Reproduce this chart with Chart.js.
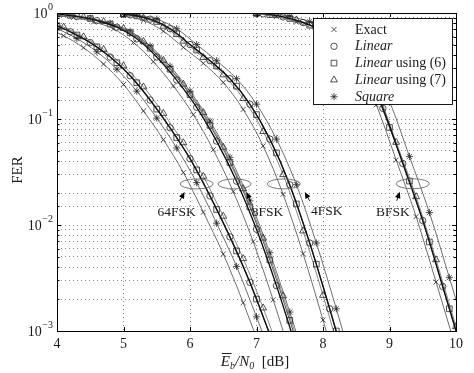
<!DOCTYPE html>
<html>
<head>
<meta charset="utf-8">
<script src="https://cdn.jsdelivr.net/npm/chart.js"></script>
<style>
  html, body { margin: 0; padding: 0; background: #fff; }
  canvas { display: block; }
</style>
</head>
<body>
<canvas id="myChart" width="474" height="373"></canvas>
<script>
// FER curves, one x / FER pair of arrays per curve
// 64FSK
const fsk64ExactX = [3.8, 4.1, 4.4, 4.7, 5.0, 5.3, 5.6, 5.9, 6.2, 6.5, 6.8, 7.1];
const fsk64ExactFer = [0.750, 0.610, 0.470, 0.330, 0.212, 0.119, 0.0638, 0.0313, 0.0132, 0.00533, 0.00185, 0.00058];
const fsk64LinX = [3.9, 4.2, 4.5, 4.8, 5.1, 5.4, 5.7, 6.0, 6.3, 6.6, 6.9, 7.2];
const fsk64LinFer = [0.807, 0.665, 0.526, 0.384, 0.256, 0.151, 0.0826, 0.0422, 0.0188, 0.00773, 0.00288, 0.00093];
const fsk64Lin6X = [3.7, 4.0, 4.3, 4.6, 4.9, 5.2, 5.5, 5.8, 6.1, 6.4, 6.7, 7.0, 7.3];
const fsk64Lin6Fer = [0.891, 0.760, 0.620, 0.480, 0.340, 0.220, 0.124, 0.0668, 0.0331, 0.0140, 0.0057, 0.0020, 0.00063];
const fsk64Lin7X = [3.8, 4.1, 4.4, 4.7, 5.0, 5.3, 5.6, 5.9, 6.2, 6.5, 6.8, 7.1, 7.4];
const fsk64Lin7Fer = [0.871, 0.736, 0.596, 0.454, 0.317, 0.201, 0.113, 0.0597, 0.0288, 0.0121, 0.00482, 0.00165, 0.00052];
const fsk64SqX = [3.7, 4.0, 4.3, 4.6, 4.9, 5.2, 5.5, 5.8, 6.1, 6.4, 6.7, 7.0, 7.3];
const fsk64SqFer = [0.851, 0.713, 0.573, 0.431, 0.295, 0.183, 0.102, 0.0533, 0.0251, 0.0104, 0.00407, 0.00136, 0.00043];

// 8FSK
const fsk8ExactX = [4.0, 4.25, 4.55, 4.85, 5.15, 5.45, 5.75, 6.05, 6.35, 6.65, 6.95, 7.25, 7.55];
const fsk8ExactFer = [0.959, 0.910, 0.824, 0.708, 0.526, 0.347, 0.205, 0.110, 0.0513, 0.0207, 0.00697, 0.00197, 0.00050];
const fsk8LinX = [4.0, 4.3, 4.6, 4.9, 5.2, 5.5, 5.8, 6.1, 6.4, 6.7, 7.0, 7.3, 7.6];
const fsk8LinFer = [0.977, 0.925, 0.847, 0.735, 0.571, 0.385, 0.233, 0.129, 0.0619, 0.0259, 0.00912, 0.00268, 0.00069];
const fsk8Lin6X = [4.0, 4.2, 4.5, 4.8, 5.1, 5.4, 5.7, 6.0, 6.3, 6.6, 6.9, 7.2, 7.5, 7.8];
const fsk8Lin6Fer = [0.982, 0.951, 0.887, 0.787, 0.652, 0.465, 0.295, 0.170, 0.0871, 0.0389, 0.0148, 0.00468, 0.00126, 0.00032];
const fsk8Lin7X = [4.0, 4.1, 4.4, 4.7, 5.0, 5.3, 5.6, 5.9, 6.2, 6.5, 6.8, 7.1, 7.4, 7.7];
const fsk8Lin7Fer = [0.984, 0.971, 0.914, 0.830, 0.716, 0.540, 0.357, 0.213, 0.115, 0.0541, 0.0220, 0.00752, 0.00215, 0.00055];
const fsk8SqX = [4.0, 4.2, 4.5, 4.8, 5.1, 5.4, 5.7, 6.0, 6.3, 6.6, 6.9, 7.2, 7.5, 7.8];
const fsk8SqFer = [0.986, 0.957, 0.895, 0.802, 0.673, 0.489, 0.315, 0.183, 0.0957, 0.0435, 0.0169, 0.00548, 0.00151, 0.00038];

// 4FSK
const fsk4ExactX = [5.0, 5.3, 5.6, 5.9, 6.2, 6.5, 6.8, 7.1, 7.4, 7.7, 8.0, 8.3];
const fsk4ExactFer = [0.948, 0.853, 0.674, 0.474, 0.335, 0.221, 0.123, 0.0556, 0.0195, 0.00537, 0.00127, 0.00028];
const fsk4LinX = [5.0, 5.1, 5.4, 5.7, 6.0, 6.3, 6.6, 6.9, 7.2, 7.5, 7.8, 8.1, 8.4];
const fsk4LinFer = [0.977, 0.959, 0.875, 0.711, 0.504, 0.355, 0.240, 0.138, 0.0646, 0.0240, 0.00676, 0.00162, 0.00036];
const fsk4Lin6X = [5.0, 5.2, 5.5, 5.8, 6.1, 6.4, 6.7, 7.0, 7.3, 7.6, 7.9, 8.2, 8.5];
const fsk4Lin6Fer = [0.977, 0.938, 0.832, 0.638, 0.447, 0.316, 0.204, 0.110, 0.0479, 0.0158, 0.00427, 0.00100, 0.00022];
const fsk4Lin7X = [5.0, 5.3, 5.6, 5.9, 6.2, 6.5, 6.8, 7.1, 7.4, 7.7, 8.0, 8.3];
const fsk4Lin7Fer = [0.970, 0.895, 0.750, 0.542, 0.380, 0.261, 0.156, 0.0762, 0.0299, 0.00879, 0.00217, 0.00049];
const fsk4SqX = [5.0, 5.2, 5.5, 5.8, 6.1, 6.4, 6.7, 7.0, 7.3, 7.6, 7.9, 8.2, 8.5];
const fsk4SqFer = [0.989, 0.959, 0.875, 0.711, 0.504, 0.355, 0.240, 0.138, 0.0646, 0.0240, 0.00676, 0.00162, 0.00036];

// BFSK
const bfskExactX = [7.0, 7.3, 7.6, 7.9, 8.2, 8.5, 8.8, 9.1, 9.4, 9.7, 10.0];
const bfskExactFer = [0.984, 0.923, 0.820, 0.685, 0.525, 0.328, 0.136, 0.0410, 0.0120, 0.00290, 0.00068];
const bfskLinX = [7.0, 7.1, 7.4, 7.7, 8.0, 8.3, 8.6, 8.9, 9.2, 9.5, 9.8, 10.1];
const bfskLinFer = [0.993, 0.982, 0.918, 0.813, 0.676, 0.513, 0.316, 0.126, 0.0380, 0.0110, 0.00263, 0.00062];
const bfskLin6X = [7.0, 7.2, 7.5, 7.8, 8.1, 8.4, 8.7, 9.0, 9.3, 9.6, 9.9, 10.2];
const bfskLin6Fer = [0.993, 0.966, 0.889, 0.767, 0.631, 0.447, 0.245, 0.0832, 0.0260, 0.00692, 0.00162, 0.00038];
const bfskLin7X = [7.0, 7.3, 7.6, 7.9, 8.2, 8.5, 8.8, 9.1, 9.4, 9.7, 10.0, 10.3];
const bfskLin7Fer = [0.993, 0.948, 0.861, 0.730, 0.586, 0.393, 0.193, 0.0603, 0.0185, 0.00470, 0.00110, 0.00025];
const bfskSqX = [7.0, 7.2, 7.5, 7.8, 8.1, 8.4, 8.7, 9.0, 9.3, 9.6, 9.9, 10.2];
const bfskSqFer = [0.995, 0.986, 0.929, 0.830, 0.693, 0.537, 0.340, 0.146, 0.0443, 0.0131, 0.00319, 0.00075];

const xTicks = [4, 5, 6, 7, 8, 9, 10];
const yExponents = [0, -1, -2, -3];

// one style per approximation, shared by all four modulations
const kinds = {
    exact: { parts: [['Exact', '']], pointStyle: 'crossRot', radius: 3.5, color: '#6e6e6e', width: 1 },
    linear: { parts: [['Linear', 'italic ']], pointStyle: 'circle', radius: 3.2, color: '#111', width: 1.4 },
    lin6: { parts: [['Linear', 'italic '], [' using (6)', '']], pointStyle: 'rect', radius: 4, color: '#555', width: 1 },
    lin7: { parts: [['Linear', 'italic '], [' using (7)', '']], pointStyle: 'triangle', radius: 4, color: '#888', width: 1 },
    square: { parts: [['Square', 'italic ']], pointStyle: 'star', radius: 3.6, color: '#6e6e6e', width: 1 }
};

const curves = [
    ['exact', fsk64ExactX, fsk64ExactFer], ['linear', fsk64LinX, fsk64LinFer],
    ['lin6', fsk64Lin6X, fsk64Lin6Fer], ['lin7', fsk64Lin7X, fsk64Lin7Fer], ['square', fsk64SqX, fsk64SqFer],
    ['exact', fsk8ExactX, fsk8ExactFer], ['linear', fsk8LinX, fsk8LinFer],
    ['lin6', fsk8Lin6X, fsk8Lin6Fer], ['lin7', fsk8Lin7X, fsk8Lin7Fer], ['square', fsk8SqX, fsk8SqFer],
    ['exact', fsk4ExactX, fsk4ExactFer], ['linear', fsk4LinX, fsk4LinFer],
    ['lin6', fsk4Lin6X, fsk4Lin6Fer], ['lin7', fsk4Lin7X, fsk4Lin7Fer], ['square', fsk4SqX, fsk4SqFer],
    ['exact', bfskExactX, bfskExactFer], ['linear', bfskLinX, bfskLinFer],
    ['lin6', bfskLin6X, bfskLin6Fer], ['lin7', bfskLin7X, bfskLin7Fer], ['square', bfskSqX, bfskSqFer]
];

// ellipse + arrow + name for each modulation (centre in data units, the rest in px offsets)
const groupMarks = [
    { name: '64FSK', x: 6.10, fer: 0.0244, tip: [-12, 8], tail: [-17, 17], label: [-20, 29] },
    { name: '8FSK', x: 6.67, fer: 0.0244, tip: [12, 8], tail: [16, 17], label: [33, 29] },
    { name: '4FSK', x: 7.41, fer: 0.0244, tip: [21, 8], tail: [26, 17], label: [43, 28] },
    { name: 'BFSK', x: 9.35, fer: 0.0245, tip: [-13, 8], tail: [-16, 17], label: [-20, 29] }
];

const serif = '"Liberation Serif", "DejaVu Serif", serif';

const datasets = curves.map(([kind, xs, fers]) => {
    const k = kinds[kind];
    return {
        label: k.parts.map(p => p[0]).join(''),
        data: xs.map((x, i) => ({ x: x, y: fers[i] })),
        borderColor: k.color,
        borderWidth: k.width,
        pointStyle: k.pointStyle,
        pointRadius: k.radius,
        pointBorderColor: '#262626',
        pointBackgroundColor: 'rgba(0,0,0,0)',
        pointBorderWidth: 0.8,
        cubicInterpolationMode: 'monotone',
        fill: false
    };
});

const drawArrow = (ctx, x0, y0, x1, y1) => {
    const ang = Math.atan2(y1 - y0, x1 - x0);
    const c = Math.cos(ang), s = Math.sin(ang);
    const len = 6.5, half = 2.8;
    ctx.beginPath();
    ctx.moveTo(x0, y0);
    ctx.lineTo(x1 - c * len * 0.7, y1 - s * len * 0.7);
    ctx.stroke();
    ctx.beginPath();
    ctx.moveTo(x1, y1);
    ctx.lineTo(x1 - c * len + s * half, y1 - s * len - c * half);
    ctx.lineTo(x1 - c * len - s * half, y1 - s * len + c * half);
    ctx.closePath();
    ctx.fill();
};

const drawMarker = (ctx, k, x, y) => {
    ctx.strokeStyle = '#262626';
    ctx.fillStyle = 'rgba(0,0,0,0)';
    ctx.lineWidth = 0.8;
    Chart.helpers.drawPoint(ctx, { pointStyle: k.pointStyle, radius: k.radius, rotation: 0, borderWidth: 0.8 }, x, y);
};

const decorations = {
    id: 'decorations',
    afterDatasetsDraw(chart) {
        const { ctx, chartArea: a, scales: { x, y } } = chart;
        ctx.save();

        // group ellipses, arrows and names
        ctx.lineWidth = 0.9;
        groupMarks.forEach(g => {
            const cx = x.getPixelForValue(g.x);
            const cy = y.getPixelForValue(g.fer);
            ctx.strokeStyle = '#6a6a6a';
            ctx.beginPath();
            ctx.ellipse(cx, cy, 16.5, 5, 0, 0, Math.PI * 2);
            ctx.stroke();
            ctx.strokeStyle = '#000';
            ctx.fillStyle = '#000';
            drawArrow(ctx, cx + g.tail[0], cy + g.tail[1], cx + g.tip[0], cy + g.tip[1]);
            ctx.fillStyle = '#1a1a1a';
            ctx.font = '13.5px ' + serif;
            ctx.textAlign = 'center';
            ctx.textBaseline = 'middle';
            ctx.fillText(g.name, cx + g.label[0], cy + g.label[1]);
        });

        // frame and inward tick marks
        ctx.strokeStyle = '#000';
        ctx.lineWidth = 1;
        ctx.strokeRect(Math.round(a.left) + 0.5, Math.round(a.top) + 0.5,
            Math.round(a.right - a.left), Math.round(a.bottom - a.top));
        ctx.beginPath();
        xTicks.forEach(v => {
            const px = Math.round(x.getPixelForValue(v)) + 0.5;
            ctx.moveTo(px, a.bottom); ctx.lineTo(px, a.bottom - 4);
            ctx.moveTo(px, a.top); ctx.lineTo(px, a.top + 4);
        });
        y.ticks.forEach(t => {
            const py = Math.round(y.getPixelForValue(t.value)) + 0.5;
            const len = Math.abs(Math.log10(t.value) % 1) < 1e-6 ? 4 : 2.5;
            ctx.moveTo(a.left, py); ctx.lineTo(a.left + len, py);
            ctx.moveTo(a.right, py); ctx.lineTo(a.right - len, py);
        });
        ctx.stroke();

        // tick labels
        ctx.fillStyle = '#1a1a1a';
        ctx.font = '14px ' + serif;
        ctx.textAlign = 'center';
        ctx.textBaseline = 'middle';
        xTicks.forEach(v => ctx.fillText(String(v), x.getPixelForValue(v), a.bottom + 13));
        yExponents.forEach(e => {
            const py = y.getPixelForValue(Math.pow(10, e));
            const expText = e === 0 ? '0' : '\u2212' + Math.abs(e);
            ctx.font = '10px ' + serif;
            ctx.textAlign = 'right';
            ctx.fillText(expText, a.left - 4, py - 6);
            const ew = ctx.measureText(expText).width;
            ctx.font = '14px ' + serif;
            ctx.fillText('10', a.left - 4 - ew - 0.5, py + 1);
        });

        // axis titles
        ctx.save();
        ctx.translate(18, (a.top + a.bottom) / 2 - 2);
        ctx.rotate(-Math.PI / 2);
        ctx.textAlign = 'center';
        ctx.font = '15px ' + serif;
        ctx.fillText('FER', 0, 0);
        ctx.restore();

        const parts = [
            { t: 'E', f: 'italic 15px ', dy: 0 },
            { t: 'b', f: 'italic 10px ', dy: 3 },
            { t: '/', f: 'italic 15px ', dy: 0 },
            { t: 'N', f: 'italic 15px ', dy: 0 },
            { t: '0', f: 'italic 10px ', dy: 3 },
            { t: '\u2002[dB]', f: '15px ', dy: 0 }
        ];
        let total = 0;
        parts.forEach(p => { ctx.font = p.f + serif; p.w = ctx.measureText(p.t).width; total += p.w; });
        let px = 255 - total / 2;
        const base = a.bottom + 35;
        ctx.textAlign = 'left';
        ctx.textBaseline = 'alphabetic';
        parts.forEach((p, i) => {
            ctx.font = p.f + serif;
            ctx.fillText(p.t, px, base + p.dy);
            if (i === 0) {
                ctx.lineWidth = 0.9;
                ctx.beginPath();
                ctx.moveTo(px + 1, base - 12.5);
                ctx.lineTo(px + p.w + 1.5, base - 12.5);
                ctx.stroke();
            }
            px += p.w;
        });

        // legend box
        const lx = 313, ly = 18, lw = 139, lh = 86;
        ctx.fillStyle = '#fff';
        ctx.fillRect(lx, ly, lw, lh);
        ctx.strokeStyle = '#000';
        ctx.lineWidth = 0.9;
        ctx.strokeRect(lx + 0.5, ly + 0.5, lw, lh);
        Object.values(kinds).forEach((k, i) => {
            const ry = 29.5 + i * 16.8;
            drawMarker(ctx, k, 334, ry);
            let tx = 355;
            ctx.fillStyle = '#1a1a1a';
            ctx.textBaseline = 'middle';
            ctx.textAlign = 'left';
            k.parts.forEach(([text, style]) => {
                ctx.font = style + '14px ' + serif;
                ctx.fillText(text, tx, ry + 0.5);
                tx += ctx.measureText(text).width;
            });
        });

        ctx.restore();
    }
};

const ctx = document.getElementById('myChart');

const myChart = new Chart(ctx, {
    type: 'line',
    data: { datasets: datasets },
    options: {
        responsive: false,
        animation: false,
        devicePixelRatio: 1,
        layout: { padding: { left: 57, right: 18, top: 13, bottom: 42 } },
        plugins: {
            legend: { display: false },
            tooltip: { enabled: false }
        },
        scales: {
            x: {
                type: 'linear',
                min: 4,
                max: 10,
                ticks: { stepSize: 1, display: false },
                grid: { color: '#7a7a7a', lineWidth: 0.9, drawTicks: false },
                border: { display: false, dash: [1, 3] }
            },
            y: {
                type: 'logarithmic',
                min: 0.001,
                max: 1,
                ticks: { display: false },
                grid: { color: '#7a7a7a', lineWidth: 0.9, drawTicks: false },
                border: { display: false, dash: [1, 3] }
            }
        }
    },
    plugins: [decorations]
});
</script>
</body>
</html>
